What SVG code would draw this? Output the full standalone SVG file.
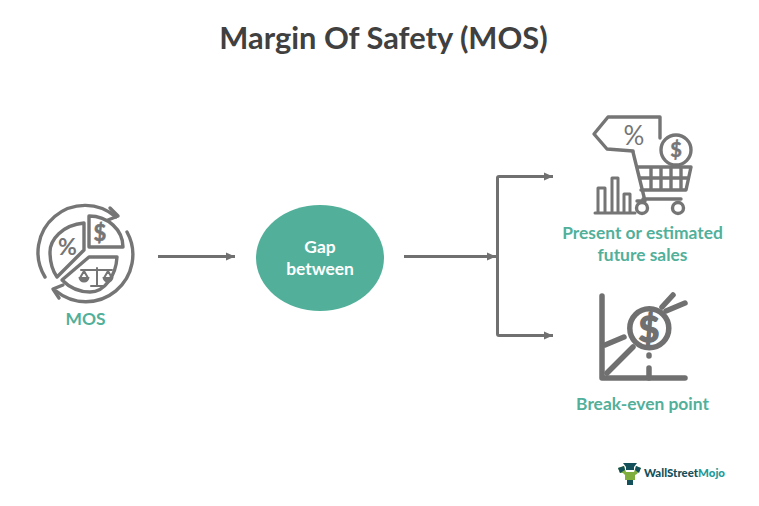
<svg xmlns="http://www.w3.org/2000/svg" width="759" height="506" viewBox="0 0 759 506">
<style>
text{font-family:Lato,"Open Sans","Liberation Sans",sans-serif;font-weight:700;text-anchor:middle}
.t{font-size:30.8px;fill:#404040}
.l{font-size:17.4px;fill:#52b09a}
.g{fill:none;stroke:#757575;stroke-width:3.4;stroke-linejoin:round;stroke-linecap:round}
.b{stroke-width:5.5;stroke:#707070}
.c{fill:none;stroke:#707070;stroke-width:3}
.i{fill:#757575}
</style>
<defs>
<marker id="a" markerUnits="userSpaceOnUse" markerWidth="10" markerHeight="10" refX="9" refY="5" orient="auto"><path d="M0 1L9 5L0 9Z" fill="#707070"/></marker>
</defs>
<rect width="759" height="506" fill="#fff"/>
<text class="t" x="383.500" y="48.500">Margin Of Safety (MOS)</text>
<g id="connectors">
<path class="c" marker-end="url(#a)" d="M158 256.500H235"/>
<path class="c" marker-end="url(#a)" d="M404 256.500H496"/>
<path class="c" d="M499 176.500Q497.500 176.500 497.500 178V256"/>
<path class="c" d="M497.500 256V334Q497.500 335.500 499 335.500H553" marker-end="url(#a)"/>
<path class="c" d="M499 176.500H553" marker-end="url(#a)"/>
</g>
<g id="node-mos">
<path class="g" d="M45 277A47 47 0 0 1 116 217"/>
<path class="g" d="M110 208L118 216L108 220"/>
<path class="g" d="M127 232A47 47 0 0 1 56 291"/>
<path class="g" d="M63 285L53 289L59 298"/>
<path class="g" d="M84 223V250L57 277C52 270 50 262 50 252C50 240 62 225 84 223Z"/>
<path class="g" d="M89 216V247H123C123 230 108 216 89 216Z"/>
<path class="g" d="M117 257H89L62 280C70 288 80 292 90 292C105 292 116 275 117 257Z"/>
<text x="100" y="241" style="font-size:22px;fill:#757575;stroke:#757575;stroke-width:.6">$</text>
<text x="67.500" y="255" style="font-size:23px;fill:#757575">%</text>
<path class="g" style="stroke-width:2" d="M97 268V285M91 286H103M81 270H112M84 271L80 278M84 271L88 278M108 271L104 278M108 271L112 278"/>
<path class="i" d="M78.500 277H89.500A5.500 5.500 0 0 1 78.500 277ZM102.500 277H113.500A5.500 5.500 0 0 1 102.500 277Z"/>
<text class="l" x="85.500" y="325">MOS</text>
</g>
<g id="node-gap">
<ellipse cx="320" cy="258" rx="64" ry="53" fill="#52b09a"/>
<text x="320" y="253" style="font-size:17.4px;fill:#fff">Gap</text>
<text x="320" y="275" style="font-size:17.4px;fill:#fff">between</text>
</g>
<g id="node-sales">
<path class="g" d="M660 138V117H608L594 134L607 149L633 151"/>
<text x="634" y="145" style="font-size:26px;fill:#757575;font-weight:400">%</text>
<circle class="g" cx="676" cy="150" r="15"/>
<text x="676" y="157" style="font-size:20px;fill:#757575;stroke:#757575;stroke-width:.5">$</text>
<path class="g" d="M633 152L645 201H637M637 167H691L686 190H641M640 178H688M651 167V190M661 167V190M671 167V190M681 167V190M643 199H681"/>
<circle class="g" cx="642" cy="208" r="5.500"/>
<circle class="g" cx="678" cy="208" r="5.500"/>
<path class="g" d="M595 213H635M598 213V188H605V213M612 213V178H618V213M624 213V194H630V213" style="stroke-width:3"/>
<text class="l" x="642.500" y="239">Present or estimated</text>
<text class="l" x="642.500" y="261">future sales</text>
</g>
<g id="node-breakeven">
<path class="g b" d="M602 296V378H685"/>
<circle class="g b" cx="649.300" cy="328.300" r="19.500"/>
<path class="g b" d="M662 307L673 295M666 311L685 303M605 345L624 337M607 373L633 347M649 368V378M649 355V356"/>
<text x="649" y="342" style="font-size:36px;fill:#707070;stroke:#707070;stroke-width:1.5">$</text>
<text class="l" x="642.500" y="410">Break-even point</text>
</g>
<g id="logo">
<path d="M618 468L624 466L626 472H634L636 466L641 468L637 474L635 475V480H625V475L623 473L620 473Z" fill="#7fae3c"/>
<path d="M618 468L624 466L625 470L620 473ZM641 468L636 466L635 470L639 473Z" fill="#14505a"/>
<path d="M623 463H637L634 467V470H626V467Z" fill="#14505a"/>
<path d="M627 480H633V485H627Z" fill="#14505a"/>
<text x="684.500" y="476.500" style="font-size:11.500px;fill:#14505a;font-weight:900" textLength="81" lengthAdjust="spacingAndGlyphs">Wall<tspan>Street</tspan><tspan fill="#1f9c9c">Mojo</tspan></text>
</g>
</svg>
